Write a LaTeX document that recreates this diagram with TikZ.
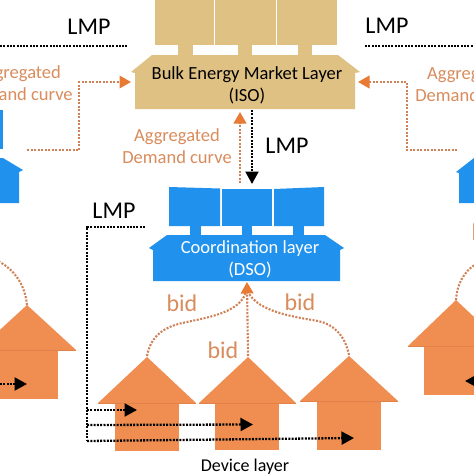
\documentclass[tikz,border=0pt]{standalone}
\usepackage{fontspec}
\setmainfont{Carlito}
\usetikzlibrary{arrows.meta}
\definecolor{tanc}{HTML}{DFC283}
\definecolor{bluec}{HTML}{2092EE}
\definecolor{housec}{HTML}{F08D50}
\definecolor{housel}{HTML}{E2814A}
\definecolor{labelc}{HTML}{D98C5C}
\definecolor{dotc}{HTML}{CF8258}
\definecolor{tipc}{HTML}{E87A33}
\newcommand{\fs}[1]{\fontsize{#1}{#1}\selectfont}
% apex x, apex y, left, right, base y, body left, body right, bottom
\newcommand{\housedraw}[8]{%
  \fill[housec] (#6,#5) rectangle (#7,#8);
  \fill[housec] (#1,#2) -- (#3,#5) -- (#4,#5) -- cycle;
  \draw[housel,line width=0.4pt] (#3,#5) -- (#4,#5);
}
\tikzset{
  lmptext/.style={font=\fs{24},text=black,inner sep=0pt},
  demandtext/.style={font=\fs{18.5},text=labelc,inner sep=0pt,align=center},
  bidtext/.style={font=\fs{24},text=labelc,inner sep=0pt},
  blackdots/.style={draw=black,line width=2.3pt,dash pattern=on 2pt off 1.3pt},
  orangedots/.style={draw=dotc,line width=2.1pt,dash pattern=on 2pt off 1.5pt},
  blacktip/.style={-{Triangle[length=12.5pt,width=13pt,fill=black]}},
  orangetip/.style={-{Triangle[length=11.5pt,width=12.5pt,color=tipc,fill=tipc]}},
}
\begin{document}
\begin{tikzpicture}[x=1pt,y=-1pt]
\useasboundingbox (0,0) rectangle (474,474);
\fill[white] (0,0) rectangle (474,474);
\clip (0,0) rectangle (474,474);

% ISO
\fill[tanc] (155,-2) rectangle (213.5,45);
\fill[tanc] (215,-2) rectangle (275.5,45);
\fill[tanc] (277,-2) rectangle (337,45);
\fill[tanc] (178,44) rectangle (193,56);
\fill[tanc] (238,44) rectangle (252,56);
\fill[tanc] (298,44) rectangle (312,56);
\fill[tanc] (152,55) -- (338,55) -- (360,72) -- (355,73) -- (355,109) -- (135,109) -- (135,73) -- (131,72) -- cycle;

% DSO
\fill[bluec] (169,187) -- (220,188.5) -- (220,226) -- (169,226) -- cycle;
\fill[bluec] (222,189) -- (272,189) -- (272,226) -- (222,226) -- cycle;
\fill[bluec] (274,189) -- (324,187) -- (324,226) -- (274,226) -- cycle;
\fill[bluec] (190,225) rectangle (201,236);
\fill[bluec] (242,225) rectangle (252,236);
\fill[bluec] (293,225) rectangle (304,236);
\fill[bluec] (167,235) -- (325,235) -- (344,248) -- (340,250) -- (340,281) -- (153,281) -- (153,250) -- (149,248) -- cycle;

% side blue houses
\fill[bluec] (-10,110) rectangle (3,149);
\fill[bluec] (-10,158) -- (3,158) -- (23,170) -- (19,172) -- (19,203) -- (-10,203) -- cycle;
\fill[bluec] (484,158) -- (474,158) -- (456,172) -- (459,173) -- (459,203) -- (484,203) -- cycle;

% device houses
\housedraw{147}{357}{98}{196}{403}{115}{179}{451}
\housedraw{248}{357}{199}{296}{403}{215}{279}{450}
\housedraw{349}{356}{300}{398}{401}{317}{381}{450}
\housedraw{456}{300}{408}{505}{346}{424}{490}{395}
\housedraw{27}{305}{-22}{76}{350}{-10}{58}{399}

% texts
\node[lmptext] (lmpa) at (89,27) {LMP};
\node[lmptext] (lmpb) at (387,26) {LMP};
\node[lmptext] (lmpc) at (287,146) {LMP};
\node[lmptext] (lmpd) at (114,211) {LMP};
\node[demandtext] (dema) at (177,146) {Aggregated\\[3.5pt]Demand curve};
\node[demandtext] (demb) at (18,83) {Aggregated\\[3.5pt]Demand curve};
\node[demandtext] (demc) at (470,84) {Aggregated\\[3.5pt]Demand curve};
\node[font=\fs{18.5},text=black,inner sep=0pt,align=center] (iso) at (247,85.5) {Bulk Energy Market Layer\\[3.5pt](ISO)};
\node[font=\fs{18.5},text=white,inner sep=0pt,align=center] (dso) at (250,259) {Coordination layer\\[3.5pt](DSO)};
\node[bidtext] (bida) at (182,303) {bid};
\node[bidtext] (bidb) at (223,350) {bid};
\node[bidtext] (bidc) at (300,302) {bid};
\node[bidtext] (bidd) at (487,232) {bid};
\node[font=\fs{18},text=black,inner sep=0pt] (dev) at (245,467) {Device layer};

% named connector ends
\coordinate (lmpaL) at (0,46);
\coordinate (lmpaR) at (127,46);
\coordinate (lmpbL) at (365,46);
\coordinate (lmpbR) at (474,46);
\coordinate (isoL) at (131,82);
\coordinate (isoR) at (358,82);
\coordinate (leftS) at (27,150);
\coordinate (leftC) at (79,150);
\coordinate (leftD) at (79,82);
\coordinate (rightS) at (457,150);
\coordinate (rightC) at (407,150);
\coordinate (rightD) at (407,82);
\coordinate (isoB) at (240,112);
\coordinate (isoBs) at (252,110);
\coordinate (dsoT) at (240,183);
\coordinate (dsoTb) at (252,184);
\coordinate (lanS) at (145,227);
\coordinate (lanC) at (87,227);
\coordinate (lanE) at (87,441);
\coordinate (hs1) at (137,410);
\coordinate (hs1s) at (87,410);
\coordinate (hs2) at (253,424.5);
\coordinate (hs2s) at (87,425);
\coordinate (hs3) at (354,438);
\coordinate (hla) at (0,384);
\coordinate (hlb) at (27,384);
\coordinate (hra) at (474,381);
\coordinate (hrb) at (465,381);
\coordinate (dsoB) at (247,282);
\coordinate (a1) at (147,356);
\coordinate (a2) at (248,356);
\coordinate (a3) at (349,355);
\coordinate (a4) at (456,300);
\coordinate (a5) at (27,305);
\coordinate (edgeR) at (476,264);
\coordinate (edgeL) at (-2,261);

% black dotted connectors
\draw[blackdots] (lmpaL) -- (lmpaR);
\draw[blackdots] (lmpbL) -- (lmpbR);
\draw[blackdots,blacktip] (isoBs) -- (dsoTb);
\draw[blackdots] (lanS) -- (lanC) -- (lanE);
\draw[blackdots,blacktip] (hs1s) -- (hs1);
\draw[blackdots,blacktip] (hs2s) -- (hs2);
\draw[blackdots,blacktip] (lanE) -- (hs3);
\draw[blackdots,blacktip] (hla) -- (hlb);
\draw[blackdots,blacktip] (hra) -- (hrb);

% orange dotted connectors
\draw[orangedots,orangetip] (leftS) -- (leftC) -- (leftD) -- (isoL);
\draw[orangedots,orangetip] (rightS) -- (rightC) -- (rightD) -- (isoR);
\draw[orangedots,orangetip] (dsoT) -- (isoB);
\draw[orangedots] (a1) .. controls (151,335) and (165,326) .. (187,322)
   .. controls (210,317) and (240,312) .. (246,292);
\draw[orangedots] (a3) .. controls (345,335) and (333,324) .. (318,321)
   .. controls (295,317) and (258,312) .. (248,292);
\draw[orangedots,orangetip] (a2) -- (dsoB);
\draw[orangedots] (a4) .. controls (457,285) and (463,272) .. (edgeR);
\draw[orangedots] (a5) .. controls (25,285) and (15,270) .. (edgeL);
\end{tikzpicture}
\end{document}
